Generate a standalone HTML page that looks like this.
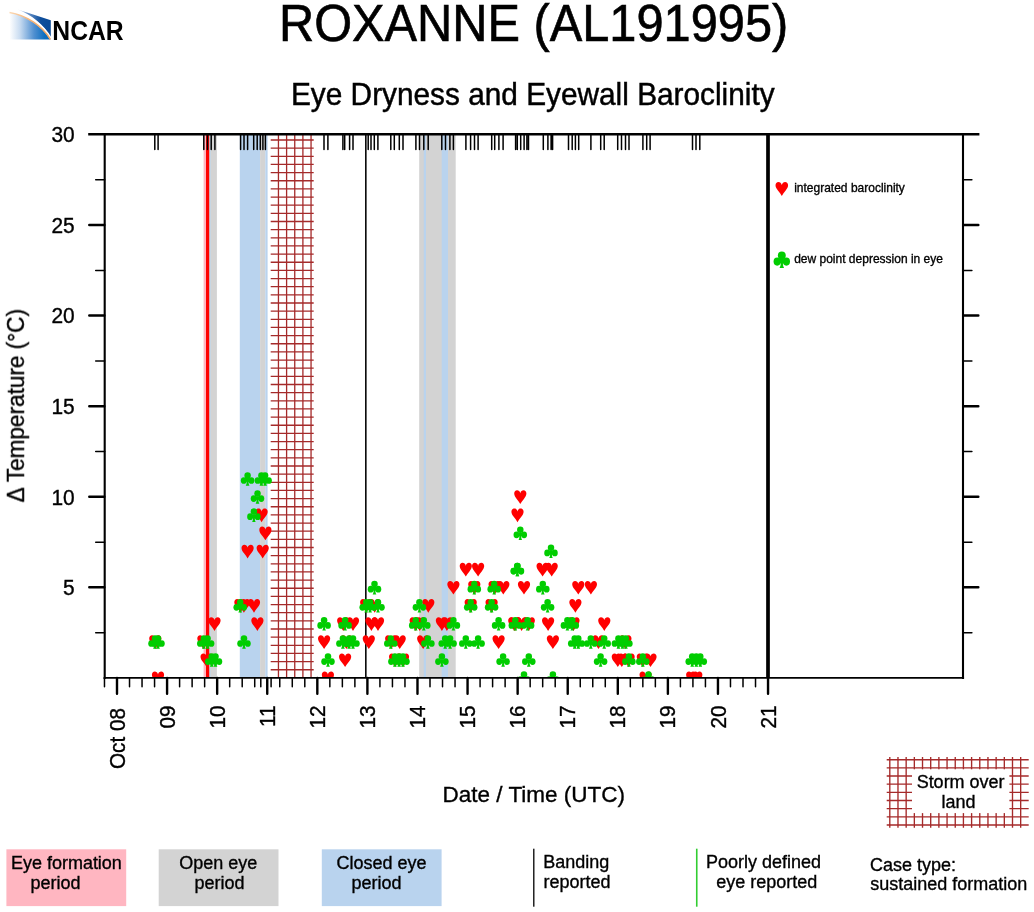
<!DOCTYPE html>
<html><head><meta charset="utf-8"><title>ROXANNE (AL191995)</title>
<style>html,body{margin:0;padding:0;background:#fff;}body{width:1034px;height:912px;overflow:hidden;}svg{display:block;}text{font-family:"Liberation Sans",sans-serif;fill:#000;}</style>
</head><body>
<svg width="1034" height="912" viewBox="0 0 1034 912">
<defs>
<linearGradient id="lg" x1="0" y1="0" x2="1" y2="0"><stop offset="0" stop-color="#ffffff"/><stop offset="0.25" stop-color="#c9dcf1"/><stop offset="0.6" stop-color="#4f8fd0"/><stop offset="0.85" stop-color="#0f6fc0"/><stop offset="1" stop-color="#0b6bbd"/></linearGradient>
<linearGradient id="lg2" x1="0" y1="0" x2="1" y2="0"><stop offset="0" stop-color="#ffffff"/><stop offset="0.3" stop-color="#6f97cc"/><stop offset="0.7" stop-color="#0f4f9c"/><stop offset="1" stop-color="#0a4a96"/></linearGradient>
<linearGradient id="lg3" x1="0" y1="0" x2="1" y2="0"><stop offset="0" stop-color="#fbd9b5"/><stop offset="0.4" stop-color="#f7b77c"/><stop offset="1" stop-color="#f3a55f"/></linearGradient>
<clipPath id="plot"><rect x="104.7" y="134.4" width="858.3" height="543.5"/></clipPath>
<path id="h" fill="#ff0000" d="M0 -3.9 C-0.5 -5.9 -1.7 -6.8 -3.2 -6.8 C-5 -6.8 -6.1 -5.3 -6.1 -3.5 C-6.1 -1.6 -5 -0.1 -3.6 1.8 C-2.3 3.5 -0.9 5.1 0 6.9 C0.9 5.1 2.3 3.5 3.6 1.8 C5 -0.1 6.1 -1.6 6.1 -3.5 C6.1 -5.3 5 -6.8 3.2 -6.8 C1.7 -6.8 0.5 -5.9 0 -3.9Z"/>
<g id="c" fill="#00cd00"><circle cx="0" cy="-3.80" r="3.24"/><ellipse cx="-3.80" cy="1.31" rx="2.97" ry="3.35"/><ellipse cx="3.80" cy="1.31" rx="2.97" ry="3.35"/><path d="M-1.66 -1.10H1.66L1.93 1.66L0.90 3.04Q0.97 5.52 1.86 6.49H-1.86Q-0.97 5.52 -0.90 3.04L-1.93 1.66Z"/></g>
<g id="cL" fill="#00cd00"><circle cx="0" cy="-4.62" r="3.95"/><ellipse cx="-4.62" cy="1.60" rx="3.61" ry="4.08"/><ellipse cx="4.62" cy="1.60" rx="3.61" ry="4.08"/><path d="M-2.02 -1.34H2.02L2.35 2.02L1.09 3.70Q1.18 6.72 2.27 7.90H-2.27Q-1.18 6.72 -1.09 3.70L-2.35 2.02Z"/></g>
</defs>
<rect width="1034" height="912" fill="#fff"/>
<g id="logo">
<path d="M9.5 12.3 C26 15.5 42 26 50.6 39.5 L9.5 39.5Z" fill="url(#lg)"/>
<path d="M17 9.2 L50.8 20.3 L50.8 37.5 C44 25 32 14.5 17 9.2Z" fill="url(#lg2)"/>
<path d="M9.5 11.2 C27 13.5 43 24.5 50.8 38.6" stroke="#ffffff" stroke-width="2.2" fill="none"/>
<path d="M9.5 12.4 C26.5 15.2 42.3 26 50.4 39.3" stroke="url(#lg3)" stroke-width="1.5" fill="none"/>
</g>
<rect x="203.6" y="134.4" width="2.60" height="543.5" fill="#ffb6c1"/>
<rect x="209.0" y="134.4" width="7.90" height="543.5" fill="#d3d3d3"/>
<rect x="209.0" y="134.4" width="2.00" height="543.5" fill="#c6d6e3"/>
<rect x="239.8" y="134.4" width="20.30" height="543.5" fill="#b9d3ee"/>
<rect x="260.1" y="134.4" width="5.20" height="543.5" fill="#d3d3d3"/>
<rect x="265.3" y="134.4" width="2.30" height="543.5" fill="#b9d3ee"/>
<rect x="419.2" y="134.4" width="36.50" height="543.5" fill="#d3d3d3"/>
<rect x="423.8" y="134.4" width="2.20" height="543.5" fill="#b9d3ee"/>
<rect x="441.7" y="134.4" width="6.30" height="543.5" fill="#b9d3ee"/>
<path d="M278.45 134.4V677.9M286.60 134.4V677.9M294.75 134.4V677.9M302.90 134.4V677.9M311.05 134.4V677.9M270.7 140.00H313.7M270.7 148.15H313.7M270.7 156.30H313.7M270.7 164.45H313.7M270.7 172.60H313.7M270.7 180.75H313.7M270.7 188.90H313.7M270.7 197.05H313.7M270.7 205.20H313.7M270.7 213.35H313.7M270.7 221.50H313.7M270.7 229.65H313.7M270.7 237.80H313.7M270.7 245.95H313.7M270.7 254.10H313.7M270.7 262.25H313.7M270.7 270.40H313.7M270.7 278.55H313.7M270.7 286.70H313.7M270.7 294.85H313.7M270.7 303.00H313.7M270.7 311.15H313.7M270.7 319.30H313.7M270.7 327.45H313.7M270.7 335.60H313.7M270.7 343.75H313.7M270.7 351.90H313.7M270.7 360.05H313.7M270.7 368.20H313.7M270.7 376.35H313.7M270.7 384.50H313.7M270.7 392.65H313.7M270.7 400.80H313.7M270.7 408.95H313.7M270.7 417.10H313.7M270.7 425.25H313.7M270.7 433.40H313.7M270.7 441.55H313.7M270.7 449.70H313.7M270.7 457.85H313.7M270.7 466.00H313.7M270.7 474.15H313.7M270.7 482.30H313.7M270.7 490.45H313.7M270.7 498.60H313.7M270.7 506.75H313.7M270.7 514.90H313.7M270.7 523.05H313.7M270.7 531.20H313.7M270.7 539.35H313.7M270.7 547.50H313.7M270.7 555.65H313.7M270.7 563.80H313.7M270.7 571.95H313.7M270.7 580.10H313.7M270.7 588.25H313.7M270.7 596.40H313.7M270.7 604.55H313.7M270.7 612.70H313.7M270.7 620.85H313.7M270.7 629.00H313.7M270.7 637.15H313.7M270.7 645.30H313.7M270.7 653.45H313.7M270.7 661.60H313.7M270.7 669.75H313.7" stroke="#a52a2a" stroke-width="1.3" fill="none"/>
<rect x="206" y="134.4" width="3.2" height="543.5" fill="#ff0000"/>
<rect x="365.05" y="134.4" width="1.55" height="543.5" fill="#000"/>
<path d="M154.8 134.4V149.6M158.1 134.4V149.6M203.8 134.4V149.6M207.5 134.4V149.6M211.2 134.4V149.6M214.9 134.4V149.6M240.6 134.4V149.6M244.0 134.4V149.6M247.6 134.4V149.6M253.7 134.4V149.6M257.2 134.4V149.6M260.3 134.4V149.6M262.9 134.4V149.6M265.4 134.4V149.6M324.0 134.4V149.6M327.9 134.4V149.6M342.9 134.4V149.6M344.7 134.4V149.6M349.6 134.4V149.6M353.0 134.4V149.6M368.2 134.4V149.6M371.0 134.4V149.6M374.3 134.4V149.6M377.9 134.4V149.6M390.8 134.4V149.6M394.3 134.4V149.6M399.3 134.4V149.6M403.0 134.4V149.6M415.9 134.4V149.6M419.5 134.4V149.6M423.8 134.4V149.6M428.2 134.4V149.6M441.8 134.4V149.6M445.5 134.4V149.6M449.9 134.4V149.6M453.4 134.4V149.6M465.9 134.4V149.6M470.6 134.4V149.6M474.5 134.4V149.6M478.1 134.4V149.6M491.7 134.4V149.6M494.7 134.4V149.6M498.9 134.4V149.6M503.1 134.4V149.6M515.6 134.4V149.6M517.3 134.4V149.6M520.7 134.4V149.6M524.1 134.4V149.6M526.9 134.4V149.6M528.5 134.4V149.6M543.3 134.4V149.6M547.9 134.4V149.6M551.1 134.4V149.6M552.6 134.4V149.6M568.5 134.4V149.6M572.2 134.4V149.6M575.4 134.4V149.6M578.7 134.4V149.6M590.9 134.4V149.6M600.7 134.4V149.6M604.2 134.4V149.6M617.7 134.4V149.6M621.5 134.4V149.6M625.5 134.4V149.6M629.0 134.4V149.6M642.9 134.4V149.6M646.7 134.4V149.6M650.1 134.4V149.6M692.5 134.4V149.6M696.0 134.4V149.6M699.8 134.4V149.6" stroke="#000" stroke-width="1.5" stroke-linecap="round" fill="none"/>
<g clip-path="url(#plot)">
<use href="#h" x="158.0" y="678.3"/>
<use href="#h" x="155.3" y="642.1"/>
<use href="#h" x="203.4" y="642.1"/>
<use href="#h" x="206.6" y="660.2"/>
<use href="#h" x="214.5" y="624.0"/>
<use href="#h" x="240.4" y="605.8"/>
<use href="#h" x="243.9" y="605.8"/>
<use href="#h" x="254.0" y="605.8"/>
<use href="#h" x="257.4" y="624.0"/>
<use href="#h" x="247.6" y="551.5"/>
<use href="#h" x="262.7" y="551.5"/>
<use href="#h" x="265.4" y="533.4"/>
<use href="#h" x="261.6" y="515.3"/>
<use href="#h" x="327.9" y="678.3"/>
<use href="#h" x="324.1" y="642.1"/>
<use href="#h" x="343.2" y="624.0"/>
<use href="#h" x="353.0" y="624.0"/>
<use href="#h" x="346.4" y="642.1"/>
<use href="#h" x="345.1" y="660.2"/>
<use href="#h" x="366.2" y="605.8"/>
<use href="#h" x="374.7" y="605.8"/>
<use href="#h" x="371.4" y="624.0"/>
<use href="#h" x="378.0" y="624.0"/>
<use href="#h" x="368.8" y="642.1"/>
<use href="#h" x="391.2" y="642.1"/>
<use href="#h" x="399.7" y="642.1"/>
<use href="#h" x="395.1" y="660.2"/>
<use href="#h" x="403.0" y="660.2"/>
<use href="#h" x="415.7" y="624.0"/>
<use href="#h" x="419.7" y="624.0"/>
<use href="#h" x="428.3" y="605.8"/>
<use href="#h" x="423.2" y="642.1"/>
<use href="#h" x="441.9" y="624.0"/>
<use href="#h" x="446.9" y="624.0"/>
<use href="#h" x="453.4" y="587.7"/>
<use href="#h" x="465.8" y="569.6"/>
<use href="#h" x="478.1" y="569.6"/>
<use href="#h" x="474.3" y="587.7"/>
<use href="#h" x="470.7" y="605.8"/>
<use href="#h" x="494.6" y="587.7"/>
<use href="#h" x="503.3" y="587.7"/>
<use href="#h" x="491.6" y="605.8"/>
<use href="#h" x="498.6" y="642.1"/>
<use href="#h" x="515.1" y="624.0"/>
<use href="#h" x="520.3" y="497.1"/>
<use href="#h" x="517.5" y="515.3"/>
<use href="#h" x="524.0" y="587.7"/>
<use href="#h" x="514.3" y="624.0"/>
<use href="#h" x="521.6" y="624.0"/>
<use href="#h" x="528.8" y="624.0"/>
<use href="#h" x="542.6" y="569.6"/>
<use href="#h" x="551.7" y="569.6"/>
<use href="#h" x="548.1" y="624.0"/>
<use href="#h" x="552.9" y="642.1"/>
<use href="#h" x="578.3" y="587.7"/>
<use href="#h" x="590.9" y="587.7"/>
<use href="#h" x="575.4" y="605.8"/>
<use href="#h" x="573.5" y="624.0"/>
<use href="#h" x="604.3" y="624.0"/>
<use href="#h" x="598.5" y="642.1"/>
<use href="#h" x="625.4" y="642.1"/>
<use href="#h" x="617.8" y="660.2"/>
<use href="#h" x="621.8" y="660.2"/>
<use href="#h" x="628.6" y="660.2"/>
<use href="#h" x="642.8" y="660.2"/>
<use href="#h" x="650.5" y="660.2"/>
<use href="#h" x="645.6" y="678.3"/>
<use href="#h" x="692.2" y="678.3"/>
<use href="#h" x="696.3" y="678.3"/>
<use href="#c" x="155.0" y="642.2"/>
<use href="#c" x="158.0" y="642.2"/>
<use href="#c" x="203.8" y="642.2"/>
<use href="#c" x="207.6" y="642.2"/>
<use href="#c" x="211.7" y="660.3"/>
<use href="#c" x="215.5" y="660.3"/>
<use href="#c" x="240.2" y="606.0"/>
<use href="#c" x="244.0" y="642.2"/>
<use href="#c" x="247.6" y="479.2"/>
<use href="#c" x="261.4" y="479.2"/>
<use href="#c" x="265.1" y="479.2"/>
<use href="#c" x="257.5" y="497.3"/>
<use href="#c" x="253.9" y="515.4"/>
<use href="#c" x="324.1" y="624.1"/>
<use href="#c" x="328.0" y="660.3"/>
<use href="#c" x="345.1" y="624.1"/>
<use href="#c" x="342.9" y="642.2"/>
<use href="#c" x="349.1" y="642.2"/>
<use href="#c" x="353.0" y="642.2"/>
<use href="#c" x="374.5" y="587.9"/>
<use href="#c" x="366.2" y="606.0"/>
<use href="#c" x="370.1" y="606.0"/>
<use href="#c" x="378.0" y="606.0"/>
<use href="#c" x="390.8" y="642.2"/>
<use href="#c" x="394.9" y="660.3"/>
<use href="#c" x="399.1" y="660.3"/>
<use href="#c" x="403.0" y="660.3"/>
<use href="#c" x="419.4" y="606.0"/>
<use href="#c" x="415.7" y="624.1"/>
<use href="#c" x="423.8" y="624.1"/>
<use href="#c" x="427.9" y="642.2"/>
<use href="#c" x="441.9" y="660.3"/>
<use href="#c" x="445.2" y="642.2"/>
<use href="#c" x="450.1" y="642.2"/>
<use href="#c" x="453.4" y="624.1"/>
<use href="#c" x="465.8" y="642.2"/>
<use href="#c" x="478.1" y="642.2"/>
<use href="#c" x="474.3" y="587.9"/>
<use href="#c" x="470.7" y="606.0"/>
<use href="#c" x="494.2" y="587.9"/>
<use href="#c" x="491.6" y="606.0"/>
<use href="#c" x="498.6" y="624.1"/>
<use href="#c" x="503.1" y="660.3"/>
<use href="#c" x="515.3" y="624.1"/>
<use href="#c" x="527.6" y="624.1"/>
<use href="#c" x="517.2" y="569.8"/>
<use href="#c" x="520.3" y="533.5"/>
<use href="#c" x="517.5" y="569.8"/>
<use href="#c" x="524.0" y="678.4"/>
<use href="#c" x="528.8" y="660.3"/>
<use href="#c" x="542.8" y="587.9"/>
<use href="#c" x="547.6" y="606.0"/>
<use href="#c" x="551.0" y="551.6"/>
<use href="#c" x="552.9" y="678.4"/>
<use href="#c" x="567.4" y="624.1"/>
<use href="#c" x="572.3" y="624.1"/>
<use href="#c" x="574.7" y="642.2"/>
<use href="#c" x="578.3" y="642.2"/>
<use href="#c" x="590.8" y="642.2"/>
<use href="#c" x="604.2" y="642.2"/>
<use href="#c" x="618.4" y="642.2"/>
<use href="#c" x="622.5" y="642.2"/>
<use href="#c" x="625.9" y="642.2"/>
<use href="#c" x="600.6" y="660.3"/>
<use href="#c" x="628.9" y="660.3"/>
<use href="#c" x="642.8" y="660.3"/>
<use href="#c" x="648.5" y="678.4"/>
<use href="#c" x="692.2" y="660.3"/>
<use href="#c" x="696.3" y="660.3"/>
<use href="#c" x="700.3" y="660.3"/>
</g>
<path d="M104.7 134.4V678.9499999999999M963.0 134.4V678.9499999999999" stroke="#000" stroke-width="2.1" fill="none"/>
<path d="M88.2 134.3H979.4" stroke="#000" stroke-width="2.6" fill="none"/><path d="M103.65 677.85H964.05" stroke="#000" stroke-width="1.95" fill="none"/>
<rect x="766.15" y="134.4" width="3.7" height="543.5" fill="#000"/>
<path d="M89.3 587.32H104.3M963.4 587.32H978.3M89.3 496.74H104.3M963.4 496.74H978.3M89.3 406.16H104.3M963.4 406.16H978.3M89.3 315.58H104.3M963.4 315.58H978.3M89.3 225.00H104.3M963.4 225.00H978.3" stroke="#000" stroke-width="2.5" stroke-linecap="round" fill="none"/>
<path d="M95.7 632.71H104.7M963.0 632.71H971.9M95.7 542.13H104.7M963.0 542.13H971.9M95.7 451.55H104.7M963.0 451.55H971.9M95.7 360.97H104.7M963.0 360.97H971.9M95.7 270.39H104.7M963.0 270.39H971.9M95.7 179.81H104.7M963.0 179.81H971.9" stroke="#000" stroke-width="1.5" stroke-linecap="round" fill="none"/>
<path d="M117.00 677.9V693.8M167.08 677.9V693.8M217.16 677.9V693.8M267.24 677.9V693.8M317.32 677.9V693.8M367.40 677.9V693.8M417.48 677.9V693.8M467.56 677.9V693.8M517.64 677.9V693.8M567.72 677.9V693.8M617.80 677.9V693.8M667.88 677.9V693.8M717.96 677.9V693.8M768.04 677.9V693.8" stroke="#000" stroke-width="2.4" stroke-linecap="round" fill="none"/>
<path d="M104.48 677.9V686.8M129.52 677.9V686.8M142.04 677.9V686.8M154.56 677.9V686.8M179.60 677.9V686.8M192.12 677.9V686.8M204.64 677.9V686.8M229.68 677.9V686.8M242.20 677.9V686.8M254.72 677.9V686.8M279.76 677.9V686.8M292.28 677.9V686.8M304.80 677.9V686.8M329.84 677.9V686.8M342.36 677.9V686.8M354.88 677.9V686.8M379.92 677.9V686.8M392.44 677.9V686.8M404.96 677.9V686.8M430.00 677.9V686.8M442.52 677.9V686.8M455.04 677.9V686.8M480.08 677.9V686.8M492.60 677.9V686.8M505.12 677.9V686.8M530.16 677.9V686.8M542.68 677.9V686.8M555.20 677.9V686.8M580.24 677.9V686.8M592.76 677.9V686.8M605.28 677.9V686.8M630.32 677.9V686.8M642.84 677.9V686.8M655.36 677.9V686.8M680.40 677.9V686.8M692.92 677.9V686.8M705.44 677.9V686.8M730.48 677.9V686.8M743.00 677.9V686.8M755.52 677.9V686.8M260.8 677.9V686.8M271.1 677.9V686.8" stroke="#000" stroke-width="1.5" stroke-linecap="round" fill="none"/>
<use href="#h" x="781.8" y="188.9" transform="translate(781.8 188.9) scale(1.03) translate(-781.8 -188.9)"/>
<use href="#cL" x="781.8" y="260.0"/>
<rect x="6.4" y="849.3" width="119.8" height="56.8" fill="#ffb6c1"/>
<rect x="158.7" y="849.3" width="119.8" height="56.8" fill="#d3d3d3"/>
<rect x="321.8" y="849.3" width="119.8" height="56.8" fill="#b9d3ee"/>
<rect x="533.15" y="848.7" width="1.3" height="58" fill="#000"/>
<rect x="695.95" y="848.7" width="1.6" height="58" fill="#32cd32"/>
<path d="M889.80 757V827.8M897.98 757V827.8M906.16 757V827.8M914.34 757V827.8M922.52 757V827.8M930.70 757V827.8M938.88 757V827.8M947.06 757V827.8M955.24 757V827.8M963.42 757V827.8M971.60 757V827.8M979.78 757V827.8M987.96 757V827.8M996.14 757V827.8M1004.32 757V827.8M1012.50 757V827.8M1020.68 757V827.8M886.7 759.70H1028.7M886.7 767.86H1028.7M886.7 776.02H1028.7M886.7 784.18H1028.7M886.7 792.34H1028.7M886.7 800.50H1028.7M886.7 808.66H1028.7M886.7 816.82H1028.7M886.7 824.98H1028.7" stroke="#a52a2a" stroke-width="1.35" fill="none"/>
<rect x="912" y="769.3" width="97.4" height="43.8" fill="#fff"/>
<g style="filter:grayscale(1)"><text x="52.3" y="39.6" font-size="27.5" font-weight="bold" textLength="71.4" lengthAdjust="spacingAndGlyphs">NCAR</text><text transform="translate(533.60 40.70) scale(1 1.05)" font-size="48.75" text-anchor="middle" stroke="#000" stroke-width="0.6">ROXANNE (AL191995)</text><text transform="translate(532.80 104.90) scale(1 1.03)" font-size="29.81" text-anchor="middle" stroke="#000" stroke-width="0.45">Eye Dryness and Eyewall Baroclinity</text><text transform="translate(74.60 595.12) scale(1 1.05)" font-size="20.9" text-anchor="end" stroke="#000" stroke-width="0.35">5</text><text transform="translate(74.60 504.54) scale(1 1.05)" font-size="20.9" text-anchor="end" stroke="#000" stroke-width="0.35">10</text><text transform="translate(74.60 413.96) scale(1 1.05)" font-size="20.9" text-anchor="end" stroke="#000" stroke-width="0.35">15</text><text transform="translate(74.60 323.38) scale(1 1.05)" font-size="20.9" text-anchor="end" stroke="#000" stroke-width="0.35">20</text><text transform="translate(74.60 232.80) scale(1 1.05)" font-size="20.9" text-anchor="end" stroke="#000" stroke-width="0.35">25</text><text transform="translate(74.60 142.22) scale(1 1.05)" font-size="20.9" text-anchor="end" stroke="#000" stroke-width="0.35">30</text><text transform="translate(124.60 708.00) rotate(-90) scale(1 1.05)" font-size="20.7" text-anchor="end" stroke="#000" stroke-width="0.35">Oct 08</text><text transform="translate(174.68 705.40) rotate(-90) scale(1 1.05)" font-size="20.7" text-anchor="end" stroke="#000" stroke-width="0.35">09</text><text transform="translate(224.76 705.40) rotate(-90) scale(1 1.05)" font-size="20.7" text-anchor="end" stroke="#000" stroke-width="0.35">10</text><text transform="translate(274.84 705.40) rotate(-90) scale(1 1.05)" font-size="20.7" text-anchor="end" stroke="#000" stroke-width="0.35">11</text><text transform="translate(324.92 705.40) rotate(-90) scale(1 1.05)" font-size="20.7" text-anchor="end" stroke="#000" stroke-width="0.35">12</text><text transform="translate(375.00 705.40) rotate(-90) scale(1 1.05)" font-size="20.7" text-anchor="end" stroke="#000" stroke-width="0.35">13</text><text transform="translate(425.08 705.40) rotate(-90) scale(1 1.05)" font-size="20.7" text-anchor="end" stroke="#000" stroke-width="0.35">14</text><text transform="translate(475.16 705.40) rotate(-90) scale(1 1.05)" font-size="20.7" text-anchor="end" stroke="#000" stroke-width="0.35">15</text><text transform="translate(525.24 705.40) rotate(-90) scale(1 1.05)" font-size="20.7" text-anchor="end" stroke="#000" stroke-width="0.35">16</text><text transform="translate(575.32 705.40) rotate(-90) scale(1 1.05)" font-size="20.7" text-anchor="end" stroke="#000" stroke-width="0.35">17</text><text transform="translate(625.40 705.40) rotate(-90) scale(1 1.05)" font-size="20.7" text-anchor="end" stroke="#000" stroke-width="0.35">18</text><text transform="translate(675.48 705.40) rotate(-90) scale(1 1.05)" font-size="20.7" text-anchor="end" stroke="#000" stroke-width="0.35">19</text><text transform="translate(725.56 705.40) rotate(-90) scale(1 1.05)" font-size="20.7" text-anchor="end" stroke="#000" stroke-width="0.35">20</text><text transform="translate(775.64 705.40) rotate(-90) scale(1 1.05)" font-size="20.7" text-anchor="end" stroke="#000" stroke-width="0.35">21</text><text transform="translate(533.80 802.50) scale(1 1.02)" font-size="22.5" text-anchor="middle" stroke="#000" stroke-width="0.35">Date / Time (UTC)</text><text transform="translate(24.00 405.60) rotate(-90) scale(1 1.05)" font-size="22.57" text-anchor="middle" stroke="#000" stroke-width="0.35">Δ Temperature (°C)</text><text transform="translate(794.20 192.30) scale(1 1.05)" font-size="12" text-anchor="start" stroke="#000" stroke-width="0.33">integrated baroclinity</text><text transform="translate(794.20 263.40) scale(1 1.05)" font-size="12" text-anchor="start" stroke="#000" stroke-width="0.33">dew point depression in eye</text><text transform="translate(66.40 869.00) scale(1 1.05)" font-size="18" text-anchor="middle" stroke="#000" stroke-width="0.35">Eye formation</text><text transform="translate(55.40 888.50) scale(1 1.05)" font-size="18" text-anchor="middle" stroke="#000" stroke-width="0.35">period</text><text transform="translate(218.30 869.00) scale(1 1.05)" font-size="18" text-anchor="middle" stroke="#000" stroke-width="0.35">Open eye</text><text transform="translate(219.60 888.50) scale(1 1.05)" font-size="18" text-anchor="middle" stroke="#000" stroke-width="0.35">period</text><text transform="translate(381.50 869.00) scale(1 1.05)" font-size="18" text-anchor="middle" stroke="#000" stroke-width="0.35">Closed eye</text><text transform="translate(376.60 888.50) scale(1 1.05)" font-size="18" text-anchor="middle" stroke="#000" stroke-width="0.35">period</text><text transform="translate(543.20 868.40) scale(1 1.05)" font-size="18" text-anchor="start" stroke="#000" stroke-width="0.35">Banding</text><text transform="translate(543.60 887.90) scale(1 1.05)" font-size="18" text-anchor="start" stroke="#000" stroke-width="0.35">reported</text><text transform="translate(763.60 868.40) scale(1 1.05)" font-size="18" text-anchor="middle" stroke="#000" stroke-width="0.35">Poorly defined</text><text transform="translate(766.70 887.90) scale(1 1.05)" font-size="18" text-anchor="middle" stroke="#000" stroke-width="0.35">eye reported</text><text transform="translate(870.00 870.50) scale(1 1.05)" font-size="18" text-anchor="start" stroke="#000" stroke-width="0.35">Case type:</text><text transform="translate(870.20 889.90) scale(1 1.05)" font-size="18" text-anchor="start" stroke="#000" stroke-width="0.35">sustained formation</text><text transform="translate(960.60 787.50) scale(1 1.05)" font-size="18" text-anchor="middle" stroke="#000" stroke-width="0.35">Storm over</text><text transform="translate(958.50 807.80) scale(1 1.05)" font-size="18" text-anchor="middle" stroke="#000" stroke-width="0.35">land</text></g>
</svg></body></html>
